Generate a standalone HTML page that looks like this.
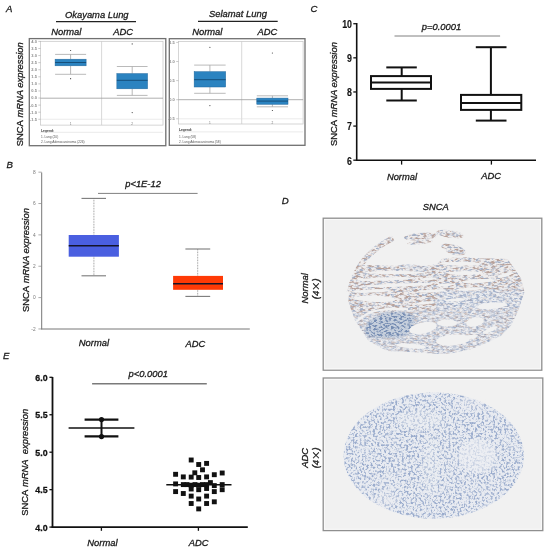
<!DOCTYPE html>
<html><head><meta charset="utf-8"><title>SNCA figure</title>
<style>html,body{margin:0;padding:0;background:#fff;width:547px;height:550px;overflow:hidden}svg{display:block}</style>
</head><body>
<svg width="547" height="550" viewBox="0 0 547 550" font-family='"Liberation Sans", sans-serif'>
<defs>
 <filter id="nb" x="0" y="0" width="100%" height="100%" color-interpolation-filters="sRGB">
  <feTurbulence type="fractalNoise" baseFrequency="0.45" numOctaves="2" seed="3" result="n"/>
  <feColorMatrix in="n" type="matrix" values="0 0 0 0 0.60  0 0 0 0 0.67  0 0 0 0 0.80  -4.5 0 0 0 2.4" result="c"/>
  <feTurbulence type="fractalNoise" baseFrequency="0.05" numOctaves="2" seed="5" result="n2"/>
  <feColorMatrix in="n2" type="matrix" values="0 0 0 0 1  0 0 0 0 1  0 0 0 0 1  0 -0.6 0 0 1.25" result="big"/>
  <feComposite in="c" in2="big" operator="in" result="c3"/>
  <feFlood flood-color="#e8ebf1" result="bg"/>
  <feComposite in="c3" in2="bg" operator="over" result="m"/>
  <feGaussianBlur in="m" stdDeviation="0.5" result="mb"/>
  <feComposite in="mb" in2="SourceGraphic" operator="in"/>
 </filter>
 <filter id="mblur" x="-5%" y="-5%" width="110%" height="110%"><feGaussianBlur stdDeviation="0.6"/></filter>
 <filter id="nt" x="0" y="0" width="100%" height="100%" color-interpolation-filters="sRGB">
  <feTurbulence type="fractalNoise" baseFrequency="0.22 0.5" numOctaves="2" seed="7" result="n"/>
  <feColorMatrix in="n" type="matrix" values="0 0 0 0 0.72  0 0 0 0 0.63  0 0 0 0 0.60  -4.5 0 0 0 2.3" result="c"/>
  <feTurbulence type="fractalNoise" baseFrequency="0.25 0.55" numOctaves="2" seed="19" result="n2"/>
  <feColorMatrix in="n2" type="matrix" values="0 0 0 0 0.64  0 0 0 0 0.69  0 0 0 0 0.78  -4.5 0 0 0 2.35" result="c2"/>
  <feFlood flood-color="#eeecec" result="bg"/>
  <feComposite in="c2" in2="bg" operator="over" result="m1"/>
  <feComposite in="c" in2="m1" operator="over" result="m"/>
  <feGaussianBlur in="m" stdDeviation="0.7" result="mb"/>
  <feComposite in="mb" in2="SourceGraphic" operator="in"/>
 </filter>
 <filter id="nblue" x="0" y="0" width="100%" height="100%" color-interpolation-filters="sRGB">
  <feTurbulence type="fractalNoise" baseFrequency="0.3 0.6" numOctaves="2" seed="29" result="n"/>
  <feColorMatrix in="n" type="matrix" values="0 0 0 0 0.60  0 0 0 0 0.67  0 0 0 0 0.79  -4.5 0 0 0 2.5" result="c"/>
  <feFlood flood-color="#eceef2" result="bg"/>
  <feComposite in="c" in2="bg" operator="over" result="m"/>
  <feGaussianBlur in="m" stdDeviation="0.7" result="mb"/>
  <feComposite in="mb" in2="SourceGraphic" operator="in"/>
 </filter>
 <filter id="nblob" x="0" y="0" width="100%" height="100%" color-interpolation-filters="sRGB">
  <feTurbulence type="fractalNoise" baseFrequency="0.35 0.55" numOctaves="2" seed="23" result="n"/>
  <feColorMatrix in="n" type="matrix" values="0 0 0 0 0.46  0 0 0 0 0.55  0 0 0 0 0.70  -4.5 0 0 0 2.5" result="c"/>
  <feFlood flood-color="#c6cfdc" result="bg"/>
  <feComposite in="c" in2="bg" operator="over" result="m"/>
  <feGaussianBlur in="m" stdDeviation="0.7" result="mb"/>
  <feComposite in="mb" in2="SourceGraphic" operator="in"/>
 </filter>
 <filter id="soft" x="-20%" y="-20%" width="140%" height="140%"><feGaussianBlur stdDeviation="1.5"/></filter>
 <filter id="soft1" x="-20%" y="-20%" width="140%" height="140%"><feGaussianBlur stdDeviation="0.9"/></filter>
<mask id="mt" maskUnits="userSpaceOnUse" x="323" y="218" width="220" height="152"><g filter="url(#mblur)">
<path d="M349,292 L351.7,279 L356,270 L362,265 L375,265 L395,266 L407,264 L426,266 L437,264 L442,259 L460,257 L482,258.5 L496,258.5 L507.6,259 L514.4,268.4 L521,278.5 L524.5,292 L517.7,312 L511,325.6 L501,335.7 L487.5,342.5 L470.6,349.2 L450.5,353.4 L437,354 L420,352.5 L400,351.5 L387,350.9 L368.5,340.8 L361.8,330.7 L355,320.6 L348.4,302 Z" fill="#fff"/>
<ellipse cx="421" cy="236.5" rx="17" ry="3.8" transform="rotate(-4 421 236.5)" fill="#fff"/>
<ellipse cx="450" cy="234" rx="14" ry="3.8" transform="rotate(8 450 234)" fill="#fff"/>
<ellipse cx="420" cy="242.5" rx="13" ry="1.8" transform="rotate(-6 420 242.5)" fill="#fff"/>
<ellipse cx="455" cy="250" rx="11" ry="5" transform="rotate(15 455 250)" fill="#fff"/>
<ellipse cx="446" cy="246" rx="5" ry="2.5" transform="rotate(0 446 246)" fill="#fff"/>
<path d="M393,238 Q372,249 362,263 Q353,276 349.5,292" fill="none" stroke="#fff" stroke-width="5.5"/>
<ellipse cx="395" cy="272.6" rx="30" ry="1.7" transform="rotate(0 395 272.6)" fill="#000"/>
<ellipse cx="385" cy="279" rx="30" ry="1.6" transform="rotate(-2 385 279)" fill="#000"/>
<ellipse cx="400" cy="285" rx="34" ry="1.7" transform="rotate(-2 400 285)" fill="#000"/>
<ellipse cx="372" cy="291" rx="20" ry="1.6" transform="rotate(-3 372 291)" fill="#000"/>
<ellipse cx="460" cy="263.7" rx="20" ry="2.0" transform="rotate(0 460 263.7)" fill="#000"/>
<ellipse cx="465" cy="273" rx="18" ry="1.9" transform="rotate(0 465 273)" fill="#000"/>
<ellipse cx="479" cy="281" rx="17" ry="1.9" transform="rotate(-3 479 281)" fill="#000"/>
<ellipse cx="505" cy="275" rx="8" ry="1.7" transform="rotate(-15 505 275)" fill="#000"/>
<ellipse cx="432" cy="291" rx="14" ry="1.6" transform="rotate(-3 432 291)" fill="#000"/>
<ellipse cx="470" cy="289" rx="14" ry="1.6" transform="rotate(-3 470 289)" fill="#000"/>
<ellipse cx="428" cy="279" rx="8" ry="1.4" transform="rotate(-4 428 279)" fill="#000"/>
<ellipse cx="445" cy="285" rx="9" ry="1.4" transform="rotate(-4 445 285)" fill="#000"/>
<ellipse cx="375" cy="298.7" rx="21" ry="3.2" transform="rotate(2 375 298.7)" fill="#000"/>
<ellipse cx="492" cy="305.7" rx="15" ry="3.3" transform="rotate(-5 492 305.7)" fill="#000"/>
<ellipse cx="455" cy="300" rx="10" ry="1.3" transform="rotate(-4 455 300)" fill="#000"/>
<ellipse cx="425" cy="303" rx="10" ry="1.4" transform="rotate(-5 425 303)" fill="#000"/>
<ellipse cx="423" cy="328" rx="14" ry="5.5" transform="rotate(-12 423 328)" fill="#000"/>
<ellipse cx="447" cy="323" rx="10" ry="3.6" transform="rotate(0 447 323)" fill="#000"/>
<ellipse cx="475" cy="322" rx="9" ry="4.5" transform="rotate(-12 475 322)" fill="#000"/>
<ellipse cx="453" cy="340" rx="17" ry="5.5" transform="rotate(-5 453 340)" fill="#000"/>
<ellipse cx="411" cy="346" rx="15" ry="2.3" transform="rotate(5 411 346)" fill="#000"/>
<ellipse cx="490" cy="330" rx="8" ry="2" transform="rotate(-25 490 330)" fill="#000"/>
<ellipse cx="470" cy="337" rx="8" ry="2" transform="rotate(-10 470 337)" fill="#000"/>
<path d="M356,322 Q366,312 380,310 Q395,308 408,309.5" fill="none" stroke="#000" stroke-width="2.2"/>
</g></mask><mask id="mblob" maskUnits="userSpaceOnUse" x="323" y="218" width="220" height="152"><g filter="url(#soft1)">
<path d="M365,330 C366,322 376,314 390,312 C400,311 409,312 413,316 C416,322 414,330 406,335 C396,339 380,339 370,337 C366,336 365,333 365,330 Z" fill="#fff"/>
</g></mask>
<mask id="mbluereg" maskUnits="userSpaceOnUse" x="323" y="218" width="220" height="152"><g filter="url(#soft)">
<path d="M350,312 C380,314 420,312 440,308 L525,310 L525,360 L340,360 Z" fill="#777"/>
<path d="M437,290 L525,290 L525,309 L437,309 Z" fill="#bbb"/>
<path d="M405,262 L428,262 L428,270 L405,270 Z" fill="#999"/>
</g></mask>
</defs>
<text x="6.0" y="11.7" font-size="9.6" font-style="italic" font-weight="normal" text-anchor="start" fill="#1a1a1a" stroke="#1a1a1a" stroke-width="0.3" >A</text>
<text x="65" y="17.5" font-size="9.4" font-style="italic" font-weight="normal" text-anchor="start" fill="#1a1a1a" stroke="#1a1a1a" stroke-width="0.3" >Okayama Lung</text>
<line x1="56" y1="21.6" x2="136" y2="21.6" stroke="#222" stroke-width="1.3" />
<text x="51.2" y="34.5" font-size="9.4" font-style="italic" font-weight="normal" text-anchor="start" fill="#1a1a1a" stroke="#1a1a1a" stroke-width="0.3" >Normal</text>
<text x="113.2" y="34.5" font-size="9.4" font-style="italic" font-weight="normal" text-anchor="start" fill="#1a1a1a" stroke="#1a1a1a" stroke-width="0.3" >ADC</text>
<text x="209" y="17.2" font-size="9.4" font-style="italic" font-weight="normal" text-anchor="start" fill="#1a1a1a" stroke="#1a1a1a" stroke-width="0.3" >Selamat Lung</text>
<line x1="198" y1="21.3" x2="277.7" y2="21.3" stroke="#222" stroke-width="1.3" />
<text x="192.2" y="34.8" font-size="9.4" font-style="italic" font-weight="normal" text-anchor="start" fill="#1a1a1a" stroke="#1a1a1a" stroke-width="0.3" >Normal</text>
<text x="257.5" y="34.8" font-size="9.4" font-style="italic" font-weight="normal" text-anchor="start" fill="#1a1a1a" stroke="#1a1a1a" stroke-width="0.3" >ADC</text>
<text x="0" y="0" font-size="9.4" font-style="italic" font-weight="normal" text-anchor="start" fill="#1a1a1a" stroke="#1a1a1a" stroke-width="0.3" transform="translate(22.6,146.2) rotate(-90)"><tspan font-style="normal">SNCA</tspan> mRNA expression</text>
<rect x="29.3" y="38.6" width="136.5" height="107.1" fill="none" stroke="#707070" stroke-width="1.3" />
<rect x="40.5" y="41.3" width="122.5" height="83.8" fill="none" stroke="#c4c4c4" stroke-width="0.7" />
<line x1="101.6" y1="41.3" x2="101.6" y2="125.1" stroke="#c8c8c8" stroke-width="0.7" />
<line x1="40.5" y1="119.28" x2="163" y2="119.28" stroke="#dedede" stroke-width="0.6" />
<line x1="40.5" y1="98.2" x2="163" y2="98.2" stroke="#9a9a9a" stroke-width="0.8" />
<line x1="38.3" y1="41.4" x2="40.5" y2="41.4" stroke="#999" stroke-width="0.5" />
<text x="36.9" y="42.8" font-size="4.0" font-style="normal" font-weight="bold" text-anchor="end" fill="#8a8a8a" >4.0</text>
<line x1="38.3" y1="48.48" x2="40.5" y2="48.48" stroke="#999" stroke-width="0.5" />
<text x="36.9" y="49.879999999999995" font-size="4.0" font-style="normal" font-weight="bold" text-anchor="end" fill="#8a8a8a" >3.5</text>
<line x1="38.3" y1="55.56" x2="40.5" y2="55.56" stroke="#999" stroke-width="0.5" />
<text x="36.9" y="56.96" font-size="4.0" font-style="normal" font-weight="bold" text-anchor="end" fill="#8a8a8a" >3.0</text>
<line x1="38.3" y1="62.64" x2="40.5" y2="62.64" stroke="#999" stroke-width="0.5" />
<text x="36.9" y="64.04" font-size="4.0" font-style="normal" font-weight="bold" text-anchor="end" fill="#8a8a8a" >2.5</text>
<line x1="38.3" y1="69.72" x2="40.5" y2="69.72" stroke="#999" stroke-width="0.5" />
<text x="36.9" y="71.12" font-size="4.0" font-style="normal" font-weight="bold" text-anchor="end" fill="#8a8a8a" >2.0</text>
<line x1="38.3" y1="76.8" x2="40.5" y2="76.8" stroke="#999" stroke-width="0.5" />
<text x="36.9" y="78.2" font-size="4.0" font-style="normal" font-weight="bold" text-anchor="end" fill="#8a8a8a" >1.5</text>
<line x1="38.3" y1="83.88" x2="40.5" y2="83.88" stroke="#999" stroke-width="0.5" />
<text x="36.9" y="85.28" font-size="4.0" font-style="normal" font-weight="bold" text-anchor="end" fill="#8a8a8a" >1.0</text>
<line x1="38.3" y1="90.96000000000001" x2="40.5" y2="90.96000000000001" stroke="#999" stroke-width="0.5" />
<text x="36.9" y="92.36000000000001" font-size="4.0" font-style="normal" font-weight="bold" text-anchor="end" fill="#8a8a8a" >0.5</text>
<line x1="38.3" y1="98.03999999999999" x2="40.5" y2="98.03999999999999" stroke="#999" stroke-width="0.5" />
<text x="36.9" y="99.44" font-size="4.0" font-style="normal" font-weight="bold" text-anchor="end" fill="#8a8a8a" >0.0</text>
<line x1="38.3" y1="105.12" x2="40.5" y2="105.12" stroke="#999" stroke-width="0.5" />
<text x="36.9" y="106.52000000000001" font-size="4.0" font-style="normal" font-weight="bold" text-anchor="end" fill="#8a8a8a" >-0.5</text>
<line x1="38.3" y1="112.19999999999999" x2="40.5" y2="112.19999999999999" stroke="#999" stroke-width="0.5" />
<text x="36.9" y="113.6" font-size="4.0" font-style="normal" font-weight="bold" text-anchor="end" fill="#8a8a8a" >-1.0</text>
<line x1="38.3" y1="119.28" x2="40.5" y2="119.28" stroke="#999" stroke-width="0.5" />
<text x="36.9" y="120.68" font-size="4.0" font-style="normal" font-weight="bold" text-anchor="end" fill="#8a8a8a" >-1.5</text>
<line x1="70.6" y1="54.4" x2="70.6" y2="59.2" stroke="#9a9a9a" stroke-width="0.7" />
<line x1="70.6" y1="65.8" x2="70.6" y2="74.3" stroke="#9a9a9a" stroke-width="0.7" />
<line x1="55.099999999999994" y1="54.4" x2="86.1" y2="54.4" stroke="#a8a8a8" stroke-width="0.8" />
<line x1="55.099999999999994" y1="74.3" x2="86.1" y2="74.3" stroke="#a8a8a8" stroke-width="0.8" />
<rect x="55.099999999999994" y="59.2" width="31" height="6.599999999999994" fill="#2b83c0" stroke="#1f669c" stroke-width="0.5" />
<line x1="55.099999999999994" y1="62.5" x2="86.1" y2="62.5" stroke="#134a73" stroke-width="0.9" />
<circle cx="70.6" cy="50.5" r="0.6" fill="#444"/>
<circle cx="70.6" cy="78.7" r="0.6" fill="#444"/>
<text x="70.6" y="124.69999999999999" font-size="3.2" font-style="normal" font-weight="normal" text-anchor="middle" fill="#777" >1</text>
<line x1="132.2" y1="66.5" x2="132.2" y2="73.6" stroke="#9a9a9a" stroke-width="0.7" />
<line x1="132.2" y1="88.8" x2="132.2" y2="95.4" stroke="#9a9a9a" stroke-width="0.7" />
<line x1="116.85" y1="66.5" x2="147.54999999999998" y2="66.5" stroke="#a8a8a8" stroke-width="0.8" />
<line x1="116.85" y1="95.4" x2="147.54999999999998" y2="95.4" stroke="#a8a8a8" stroke-width="0.8" />
<rect x="116.85" y="73.6" width="30.7" height="15.200000000000003" fill="#2b83c0" stroke="#1f669c" stroke-width="0.5" />
<line x1="116.85" y1="80.3" x2="147.54999999999998" y2="80.3" stroke="#134a73" stroke-width="0.9" />
<circle cx="132.2" cy="43.9" r="0.6" fill="#444"/>
<circle cx="132.2" cy="112.6" r="0.6" fill="#444"/>
<text x="132.2" y="124.69999999999999" font-size="3.2" font-style="normal" font-weight="normal" text-anchor="middle" fill="#777" >2</text>
<text x="41.0" y="131.5" font-size="3.4" font-style="normal" font-weight="bold" text-anchor="start" fill="#333" >Legend:</text>
<line x1="40.5" y1="132.29999999999998" x2="163" y2="132.29999999999998" stroke="#dcdcdc" stroke-width="0.6" />
<text x="41.0" y="138.0" font-size="3.2" font-style="normal" font-weight="normal" text-anchor="start" fill="#555" >1. Lung (20)</text>
<text x="41.0" y="143.39999999999998" font-size="3.2" font-style="normal" font-weight="normal" text-anchor="start" fill="#555" >2. Lung Adenocarcinoma (226)</text>
<rect x="169.3" y="38.7" width="135.7" height="106.60000000000001" fill="none" stroke="#707070" stroke-width="1.3" />
<rect x="178.4" y="41.6" width="124.70000000000002" height="82.4" fill="none" stroke="#c4c4c4" stroke-width="0.7" />
<line x1="241.7" y1="41.6" x2="241.7" y2="124.0" stroke="#c8c8c8" stroke-width="0.7" />
<line x1="178.4" y1="118.80000000000001" x2="303.1" y2="118.80000000000001" stroke="#dedede" stroke-width="0.6" />
<line x1="178.4" y1="99.7" x2="303.1" y2="99.7" stroke="#9a9a9a" stroke-width="0.8" />
<line x1="176.20000000000002" y1="42.4" x2="178.4" y2="42.4" stroke="#999" stroke-width="0.5" />
<text x="174.8" y="43.8" font-size="4.0" font-style="normal" font-weight="bold" text-anchor="end" fill="#8a8a8a" >1.5</text>
<line x1="176.20000000000002" y1="61.5" x2="178.4" y2="61.5" stroke="#999" stroke-width="0.5" />
<text x="174.8" y="62.9" font-size="4.0" font-style="normal" font-weight="bold" text-anchor="end" fill="#8a8a8a" >1.0</text>
<line x1="176.20000000000002" y1="80.6" x2="178.4" y2="80.6" stroke="#999" stroke-width="0.5" />
<text x="174.8" y="82.0" font-size="4.0" font-style="normal" font-weight="bold" text-anchor="end" fill="#8a8a8a" >0.5</text>
<line x1="176.20000000000002" y1="99.7" x2="178.4" y2="99.7" stroke="#999" stroke-width="0.5" />
<text x="174.8" y="101.10000000000001" font-size="4.0" font-style="normal" font-weight="bold" text-anchor="end" fill="#8a8a8a" >0.0</text>
<line x1="176.20000000000002" y1="118.80000000000001" x2="178.4" y2="118.80000000000001" stroke="#999" stroke-width="0.5" />
<text x="174.8" y="120.20000000000002" font-size="4.0" font-style="normal" font-weight="bold" text-anchor="end" fill="#8a8a8a" >-0.5</text>
<line x1="209.9" y1="65.1" x2="209.9" y2="71.7" stroke="#9a9a9a" stroke-width="0.7" />
<line x1="209.9" y1="87.0" x2="209.9" y2="93.3" stroke="#9a9a9a" stroke-width="0.7" />
<line x1="194.15" y1="65.1" x2="225.65" y2="65.1" stroke="#a8a8a8" stroke-width="0.8" />
<line x1="194.15" y1="93.3" x2="225.65" y2="93.3" stroke="#a8a8a8" stroke-width="0.8" />
<rect x="194.15" y="71.7" width="31.5" height="15.299999999999997" fill="#2b83c0" stroke="#1f669c" stroke-width="0.5" />
<line x1="194.15" y1="79.7" x2="225.65" y2="79.7" stroke="#134a73" stroke-width="0.9" />
<circle cx="209.9" cy="47.3" r="0.6" fill="#444"/>
<circle cx="209.9" cy="105.6" r="0.6" fill="#444"/>
<text x="209.9" y="123.6" font-size="3.2" font-style="normal" font-weight="normal" text-anchor="middle" fill="#777" >1</text>
<line x1="272.4" y1="95.8" x2="272.4" y2="98.1" stroke="#9a9a9a" stroke-width="0.7" />
<line x1="272.4" y1="104.3" x2="272.4" y2="106.8" stroke="#9a9a9a" stroke-width="0.7" />
<line x1="256.79999999999995" y1="95.8" x2="288.0" y2="95.8" stroke="#a8a8a8" stroke-width="0.8" />
<line x1="256.79999999999995" y1="106.8" x2="288.0" y2="106.8" stroke="#a8a8a8" stroke-width="0.8" />
<rect x="256.79999999999995" y="98.1" width="31.2" height="6.200000000000003" fill="#2b83c0" stroke="#1f669c" stroke-width="0.5" />
<line x1="256.79999999999995" y1="101.1" x2="288.0" y2="101.1" stroke="#134a73" stroke-width="0.9" />
<circle cx="272.4" cy="53.0" r="0.6" fill="#444"/>
<circle cx="272.4" cy="110.5" r="0.6" fill="#444"/>
<text x="272.4" y="123.6" font-size="3.2" font-style="normal" font-weight="normal" text-anchor="middle" fill="#777" >2</text>
<text x="178.9" y="131.10000000000002" font-size="3.4" font-style="normal" font-weight="bold" text-anchor="start" fill="#333" >Legend:</text>
<line x1="178.4" y1="131.9" x2="303.1" y2="131.9" stroke="#dcdcdc" stroke-width="0.6" />
<text x="178.9" y="137.60000000000002" font-size="3.2" font-style="normal" font-weight="normal" text-anchor="start" fill="#555" >1. Lung (58)</text>
<text x="178.9" y="143.0" font-size="3.2" font-style="normal" font-weight="normal" text-anchor="start" fill="#555" >2. Lung Adenocarcinoma (58)</text>
<text x="310.6" y="11.7" font-size="9.6" font-style="italic" font-weight="normal" text-anchor="start" fill="#1a1a1a" stroke="#1a1a1a" stroke-width="0.3" >C</text>
<line x1="356.7" y1="23.0" x2="356.7" y2="161.0" stroke="#111" stroke-width="1.6" />
<line x1="355.9" y1="160.2" x2="536" y2="160.2" stroke="#111" stroke-width="1.6" />
<line x1="353.3" y1="160.2" x2="356.7" y2="160.2" stroke="#111" stroke-width="1.3" />
<text x="352" y="164.6" font-size="10.4" font-style="normal" font-weight="bold" text-anchor="end" fill="#111" stroke="#111" stroke-width="0.12" transform="translate(52.80000000000001,0) scale(0.85,1)">6</text>
<line x1="353.3" y1="126.07999999999998" x2="356.7" y2="126.07999999999998" stroke="#111" stroke-width="1.3" />
<text x="352" y="130.48" font-size="10.4" font-style="normal" font-weight="bold" text-anchor="end" fill="#111" stroke="#111" stroke-width="0.12" transform="translate(52.80000000000001,0) scale(0.85,1)">7</text>
<line x1="353.3" y1="91.96" x2="356.7" y2="91.96" stroke="#111" stroke-width="1.3" />
<text x="352" y="96.36" font-size="10.4" font-style="normal" font-weight="bold" text-anchor="end" fill="#111" stroke="#111" stroke-width="0.12" transform="translate(52.80000000000001,0) scale(0.85,1)">8</text>
<line x1="353.3" y1="57.84" x2="356.7" y2="57.84" stroke="#111" stroke-width="1.3" />
<text x="352" y="62.24" font-size="10.4" font-style="normal" font-weight="bold" text-anchor="end" fill="#111" stroke="#111" stroke-width="0.12" transform="translate(52.80000000000001,0) scale(0.85,1)">9</text>
<line x1="353.3" y1="23.72" x2="356.7" y2="23.72" stroke="#111" stroke-width="1.3" />
<text x="352" y="28.119999999999997" font-size="10.4" font-style="normal" font-weight="bold" text-anchor="end" fill="#111" stroke="#111" stroke-width="0.12" transform="translate(52.80000000000001,0) scale(0.85,1)">10</text>
<line x1="401.6" y1="160.2" x2="401.6" y2="164.6" stroke="#111" stroke-width="1.3" />
<line x1="491.4" y1="160.2" x2="491.4" y2="164.6" stroke="#111" stroke-width="1.3" />
<text x="386.9" y="179.5" font-size="9.4" font-style="italic" font-weight="normal" text-anchor="start" fill="#1a1a1a" stroke="#1a1a1a" stroke-width="0.3" >Normal</text>
<text x="481.3" y="179.4" font-size="9.4" font-style="italic" font-weight="normal" text-anchor="start" fill="#1a1a1a" stroke="#1a1a1a" stroke-width="0.3" >ADC</text>
<text x="421.8" y="29.6" font-size="9.4" font-style="italic" font-weight="normal" text-anchor="start" fill="#1a1a1a" stroke="#1a1a1a" stroke-width="0.3" >p=0.0001</text>
<line x1="394.5" y1="36.0" x2="500.1" y2="36.0" stroke="#808080" stroke-width="1.0" />
<text x="0" y="0" font-size="9.4" font-style="italic" font-weight="normal" text-anchor="start" fill="#1a1a1a" stroke="#1a1a1a" stroke-width="0.3" transform="translate(337.3,146.0) rotate(-90)"><tspan font-style="normal">SNCA</tspan> mRNA expression</text>
<line x1="401.7" y1="67.4" x2="401.7" y2="76.1" stroke="#111" stroke-width="2" />
<line x1="401.7" y1="88.9" x2="401.7" y2="100.5" stroke="#111" stroke-width="2" />
<line x1="386.3" y1="67.4" x2="416.8" y2="67.4" stroke="#111" stroke-width="2" />
<line x1="386.3" y1="100.5" x2="416.8" y2="100.5" stroke="#111" stroke-width="2" />
<rect x="371.0" y="76.1" width="60.0" height="12.800000000000011" fill="none" stroke="#111" stroke-width="2" />
<line x1="371.0" y1="82.5" x2="431.0" y2="82.5" stroke="#111" stroke-width="2" />
<line x1="490.9" y1="47.2" x2="490.9" y2="94.9" stroke="#111" stroke-width="2" />
<line x1="490.9" y1="109.9" x2="490.9" y2="120.6" stroke="#111" stroke-width="2" />
<line x1="475.8" y1="47.2" x2="506.5" y2="47.2" stroke="#111" stroke-width="2" />
<line x1="475.8" y1="120.6" x2="506.5" y2="120.6" stroke="#111" stroke-width="2" />
<rect x="461.0" y="94.9" width="60.299999999999955" height="15.0" fill="none" stroke="#111" stroke-width="2" />
<line x1="461.0" y1="103.0" x2="521.3" y2="103.0" stroke="#111" stroke-width="2" />
<text x="6.4" y="167.5" font-size="9.6" font-style="italic" font-weight="normal" text-anchor="start" fill="#1a1a1a" stroke="#1a1a1a" stroke-width="0.3" >B</text>
<line x1="41.7" y1="172.5" x2="41.7" y2="329.3" stroke="#777" stroke-width="1.0" />
<line x1="41.2" y1="329.0" x2="249.8" y2="329.0" stroke="#777" stroke-width="1.0" />
<line x1="38.4" y1="172.16000000000003" x2="41.7" y2="172.16000000000003" stroke="#888" stroke-width="0.7" />
<text x="35.6" y="173.86" font-size="4.8" font-style="normal" font-weight="normal" text-anchor="end" fill="#777" >8</text>
<line x1="38.4" y1="203.52000000000004" x2="41.7" y2="203.52000000000004" stroke="#888" stroke-width="0.7" />
<text x="35.6" y="205.22000000000003" font-size="4.8" font-style="normal" font-weight="normal" text-anchor="end" fill="#777" >6</text>
<line x1="38.4" y1="234.88000000000002" x2="41.7" y2="234.88000000000002" stroke="#888" stroke-width="0.7" />
<text x="35.6" y="236.58" font-size="4.8" font-style="normal" font-weight="normal" text-anchor="end" fill="#777" >4</text>
<line x1="38.4" y1="266.24" x2="41.7" y2="266.24" stroke="#888" stroke-width="0.7" />
<text x="35.6" y="267.94" font-size="4.8" font-style="normal" font-weight="normal" text-anchor="end" fill="#777" >2</text>
<line x1="38.4" y1="297.6" x2="41.7" y2="297.6" stroke="#888" stroke-width="0.7" />
<text x="35.6" y="299.3" font-size="4.8" font-style="normal" font-weight="normal" text-anchor="end" fill="#777" >0</text>
<line x1="38.4" y1="328.96000000000004" x2="41.7" y2="328.96000000000004" stroke="#888" stroke-width="0.7" />
<text x="35.6" y="330.66" font-size="4.8" font-style="normal" font-weight="normal" text-anchor="end" fill="#777" >-2</text>
<text x="125.2" y="186.5" font-size="9.4" font-style="italic" font-weight="normal" text-anchor="start" fill="#1a1a1a" stroke="#1a1a1a" stroke-width="0.3" >p&lt;1E-12</text>
<line x1="98" y1="193.4" x2="197.6" y2="193.4" stroke="#808080" stroke-width="1.0" />
<line x1="93.9" y1="198.4" x2="93.9" y2="235.0" stroke="#777" stroke-width="0.8" stroke-dasharray="0.8 0.8"/>
<line x1="93.9" y1="256.7" x2="93.9" y2="275.8" stroke="#777" stroke-width="0.8" stroke-dasharray="0.8 0.8"/>
<line x1="81.5" y1="198.4" x2="106.0" y2="198.4" stroke="#7a7a7a" stroke-width="1.1" />
<line x1="81.5" y1="275.8" x2="106.0" y2="275.8" stroke="#7a7a7a" stroke-width="1.1" />
<rect x="68.7" y="235.0" width="50.2" height="21.69999999999999" fill="#4a5fe0" stroke="none" stroke-width="1" />
<line x1="68.7" y1="245.7" x2="118.9" y2="245.7" stroke="#141428" stroke-width="1.6" />
<line x1="197.7" y1="249.0" x2="197.7" y2="275.9" stroke="#777" stroke-width="0.8" stroke-dasharray="0.8 0.8"/>
<line x1="197.7" y1="289.8" x2="197.7" y2="296.4" stroke="#777" stroke-width="0.8" stroke-dasharray="0.8 0.8"/>
<line x1="185.4" y1="249.0" x2="210.2" y2="249.0" stroke="#7a7a7a" stroke-width="1.1" />
<line x1="185.4" y1="296.4" x2="210.2" y2="296.4" stroke="#7a7a7a" stroke-width="1.1" />
<rect x="173.1" y="275.9" width="49.900000000000006" height="13.900000000000034" fill="#ff3a06" stroke="none" stroke-width="1" />
<line x1="173.1" y1="283.7" x2="223.0" y2="283.7" stroke="#141428" stroke-width="1.6" />
<text x="78.8" y="345.9" font-size="9.4" font-style="italic" font-weight="normal" text-anchor="start" fill="#1a1a1a" stroke="#1a1a1a" stroke-width="0.3" >Normal</text>
<text x="185.4" y="346.5" font-size="9.4" font-style="italic" font-weight="normal" text-anchor="start" fill="#1a1a1a" stroke="#1a1a1a" stroke-width="0.3" >ADC</text>
<text x="0" y="0" font-size="9.4" font-style="italic" font-weight="normal" text-anchor="start" fill="#1a1a1a" stroke="#1a1a1a" stroke-width="0.3" transform="translate(28.6,312.0) rotate(-90)"><tspan font-style="normal">SNCA</tspan> mRNA expression</text>
<text x="3.0" y="358.6" font-size="9.6" font-style="italic" font-weight="normal" text-anchor="start" fill="#1a1a1a" stroke="#1a1a1a" stroke-width="0.3" >E</text>
<line x1="52.5" y1="377.0" x2="52.5" y2="528.0" stroke="#111" stroke-width="1.8" />
<line x1="51.6" y1="527.1" x2="247.8" y2="527.1" stroke="#111" stroke-width="1.8" />
<line x1="49.4" y1="527.1" x2="52.5" y2="527.1" stroke="#111" stroke-width="1.3" />
<text x="47.6" y="530.6" font-size="9.8" font-style="normal" font-weight="bold" text-anchor="end" fill="#111" stroke="#111" stroke-width="0.3" transform="translate(4.759999999999999,0) scale(0.9,1)">4.0</text>
<line x1="49.4" y1="489.65000000000003" x2="52.5" y2="489.65000000000003" stroke="#111" stroke-width="1.3" />
<text x="47.6" y="493.15000000000003" font-size="9.8" font-style="normal" font-weight="bold" text-anchor="end" fill="#111" stroke="#111" stroke-width="0.3" transform="translate(4.759999999999999,0) scale(0.9,1)">4.5</text>
<line x1="49.4" y1="452.20000000000005" x2="52.5" y2="452.20000000000005" stroke="#111" stroke-width="1.3" />
<text x="47.6" y="455.70000000000005" font-size="9.8" font-style="normal" font-weight="bold" text-anchor="end" fill="#111" stroke="#111" stroke-width="0.3" transform="translate(4.759999999999999,0) scale(0.9,1)">5.0</text>
<line x1="49.4" y1="414.75" x2="52.5" y2="414.75" stroke="#111" stroke-width="1.3" />
<text x="47.6" y="418.25" font-size="9.8" font-style="normal" font-weight="bold" text-anchor="end" fill="#111" stroke="#111" stroke-width="0.3" transform="translate(4.759999999999999,0) scale(0.9,1)">5.5</text>
<line x1="49.4" y1="377.3" x2="52.5" y2="377.3" stroke="#111" stroke-width="1.3" />
<text x="47.6" y="380.8" font-size="9.8" font-style="normal" font-weight="bold" text-anchor="end" fill="#111" stroke="#111" stroke-width="0.3" transform="translate(4.759999999999999,0) scale(0.9,1)">6.0</text>
<line x1="101.4" y1="527.1" x2="101.4" y2="530.8" stroke="#111" stroke-width="1.3" />
<line x1="198.4" y1="527.1" x2="198.4" y2="530.8" stroke="#111" stroke-width="1.3" />
<text x="87.3" y="545.7" font-size="9.4" font-style="italic" font-weight="normal" text-anchor="start" fill="#1a1a1a" stroke="#1a1a1a" stroke-width="0.3" >Normal</text>
<text x="188.7" y="546.4" font-size="9.4" font-style="italic" font-weight="normal" text-anchor="start" fill="#1a1a1a" stroke="#1a1a1a" stroke-width="0.3" >ADC</text>
<text x="128.5" y="377.1" font-size="9.4" font-style="italic" font-weight="normal" text-anchor="start" fill="#1a1a1a" stroke="#1a1a1a" stroke-width="0.3" >p&lt;0.0001</text>
<line x1="92.1" y1="383.7" x2="206.8" y2="383.7" stroke="#7a7a7a" stroke-width="1.4" />
<text x="0" y="0" font-size="9.4" font-style="italic" font-weight="normal" text-anchor="start" fill="#1a1a1a" stroke="#1a1a1a" stroke-width="0.3" transform="translate(28.4,515.7) rotate(-90)" xml:space="preserve"><tspan font-style="normal">SNCA</tspan> mRNA&#160; expression</text>
<line x1="68.6" y1="428.1" x2="134.4" y2="428.1" stroke="#111" stroke-width="1.5" />
<line x1="84.6" y1="419.6" x2="118.4" y2="419.6" stroke="#111" stroke-width="2.2" />
<line x1="84.6" y1="436.4" x2="118.4" y2="436.4" stroke="#111" stroke-width="2.2" />
<line x1="101.5" y1="419.6" x2="101.5" y2="436.4" stroke="#111" stroke-width="2.0" />
<circle cx="101.5" cy="419.6" r="2.6" fill="#111"/>
<circle cx="101.5" cy="436.6" r="2.6" fill="#111"/>
<rect x="188.75" y="457.55" width="4.9" height="4.9" fill="#111" stroke="none" stroke-width="1" />
<rect x="196.25" y="462.05" width="4.9" height="4.9" fill="#111" stroke="none" stroke-width="1" />
<rect x="204.15" y="460.95" width="4.9" height="4.9" fill="#111" stroke="none" stroke-width="1" />
<rect x="200.05" y="467.35" width="4.9" height="4.9" fill="#111" stroke="none" stroke-width="1" />
<rect x="192.35" y="470.35" width="4.9" height="4.9" fill="#111" stroke="none" stroke-width="1" />
<rect x="173.15" y="471.85" width="4.9" height="4.9" fill="#111" stroke="none" stroke-width="1" />
<rect x="180.85" y="474.45" width="4.9" height="4.9" fill="#111" stroke="none" stroke-width="1" />
<rect x="188.75" y="474.65" width="4.9" height="4.9" fill="#111" stroke="none" stroke-width="1" />
<rect x="196.25" y="475.05" width="4.9" height="4.9" fill="#111" stroke="none" stroke-width="1" />
<rect x="204.15" y="474.45" width="4.9" height="4.9" fill="#111" stroke="none" stroke-width="1" />
<rect x="211.85" y="472.25" width="4.9" height="4.9" fill="#111" stroke="none" stroke-width="1" />
<rect x="219.75" y="470.55" width="4.9" height="4.9" fill="#111" stroke="none" stroke-width="1" />
<rect x="173.15" y="481.45" width="4.9" height="4.9" fill="#111" stroke="none" stroke-width="1" />
<rect x="180.85" y="482.15" width="4.9" height="4.9" fill="#111" stroke="none" stroke-width="1" />
<rect x="184.55" y="482.15" width="4.9" height="4.9" fill="#111" stroke="none" stroke-width="1" />
<rect x="188.75" y="482.75" width="4.9" height="4.9" fill="#111" stroke="none" stroke-width="1" />
<rect x="192.55" y="482.15" width="4.9" height="4.9" fill="#111" stroke="none" stroke-width="1" />
<rect x="196.25" y="482.75" width="4.9" height="4.9" fill="#111" stroke="none" stroke-width="1" />
<rect x="200.05" y="482.15" width="4.9" height="4.9" fill="#111" stroke="none" stroke-width="1" />
<rect x="204.15" y="482.15" width="4.9" height="4.9" fill="#111" stroke="none" stroke-width="1" />
<rect x="207.95" y="480.15" width="4.9" height="4.9" fill="#111" stroke="none" stroke-width="1" />
<rect x="211.85" y="483.15" width="4.9" height="4.9" fill="#111" stroke="none" stroke-width="1" />
<rect x="219.75" y="482.15" width="4.9" height="4.9" fill="#111" stroke="none" stroke-width="1" />
<rect x="219.75" y="487.25" width="4.9" height="4.9" fill="#111" stroke="none" stroke-width="1" />
<rect x="173.15" y="489.15" width="4.9" height="4.9" fill="#111" stroke="none" stroke-width="1" />
<rect x="180.85" y="491.05" width="4.9" height="4.9" fill="#111" stroke="none" stroke-width="1" />
<rect x="188.75" y="486.55" width="4.9" height="4.9" fill="#111" stroke="none" stroke-width="1" />
<rect x="196.25" y="487.25" width="4.9" height="4.9" fill="#111" stroke="none" stroke-width="1" />
<rect x="204.15" y="486.05" width="4.9" height="4.9" fill="#111" stroke="none" stroke-width="1" />
<rect x="211.85" y="489.15" width="4.9" height="4.9" fill="#111" stroke="none" stroke-width="1" />
<rect x="188.75" y="493.65" width="4.9" height="4.9" fill="#111" stroke="none" stroke-width="1" />
<rect x="196.25" y="496.55" width="4.9" height="4.9" fill="#111" stroke="none" stroke-width="1" />
<rect x="204.15" y="493.65" width="4.9" height="4.9" fill="#111" stroke="none" stroke-width="1" />
<rect x="188.75" y="501.05" width="4.9" height="4.9" fill="#111" stroke="none" stroke-width="1" />
<rect x="204.15" y="501.05" width="4.9" height="4.9" fill="#111" stroke="none" stroke-width="1" />
<rect x="211.85" y="499.35" width="4.9" height="4.9" fill="#111" stroke="none" stroke-width="1" />
<rect x="196.25" y="506.45" width="4.9" height="4.9" fill="#111" stroke="none" stroke-width="1" />
<line x1="166.3" y1="484.8" x2="231.5" y2="484.8" stroke="#111" stroke-width="1.4" />
<text x="281.8" y="203.7" font-size="9.6" font-style="italic" font-weight="normal" text-anchor="start" fill="#1a1a1a" stroke="#1a1a1a" stroke-width="0.3" >D</text>
<text x="422.8" y="210.4" font-size="9.4" font-style="italic" font-weight="normal" text-anchor="start" fill="#1a1a1a" stroke="#1a1a1a" stroke-width="0.3" >SNCA</text>
<rect x="323.2" y="218.2" width="218.6" height="152.0" fill="#f1f1f1" stroke="#8f8f8f" stroke-width="1.3" />
<rect x="324.6" y="219.6" width="215.8" height="149.2" fill="none" stroke="#fbfbfb" stroke-width="0.9" />
<rect x="323.2" y="378.0" width="219.6" height="152.6" fill="#f1f1f1" stroke="#8f8f8f" stroke-width="1.3" />
<rect x="324.6" y="379.4" width="216.8" height="149.8" fill="none" stroke="#fbfbfb" stroke-width="0.9" />
<text x="0" y="0" font-size="9.4" font-style="italic" font-weight="normal" text-anchor="middle" fill="#1a1a1a" stroke="#1a1a1a" stroke-width="0.3" transform="translate(307.9,288.3) rotate(-90)">Normal</text>
<text x="0" y="0" font-size="9.4" font-style="italic" font-weight="normal" text-anchor="middle" fill="#1a1a1a" stroke="#1a1a1a" stroke-width="0.3" transform="translate(319.3,288.8) rotate(-90)">(4<tspan font-family="Noto Sans CJK SC, sans-serif" font-style="normal">×</tspan>)</text>
<text x="0" y="0" font-size="9.4" font-style="italic" font-weight="normal" text-anchor="middle" fill="#1a1a1a" stroke="#1a1a1a" stroke-width="0.3" transform="translate(307.9,457.9) rotate(-90)">ADC</text>
<text x="0" y="0" font-size="9.4" font-style="italic" font-weight="normal" text-anchor="middle" fill="#1a1a1a" stroke="#1a1a1a" stroke-width="0.3" transform="translate(319.3,457.9) rotate(-90)">(4<tspan font-family="Noto Sans CJK SC, sans-serif" font-style="normal">×</tspan>)</text>
<ellipse cx="433.8" cy="455.6" rx="90.2" ry="63.1" fill="#000" filter="url(#nb)"/>
<g filter="url(#soft)" fill="#eef0f3"><ellipse cx="477" cy="456" rx="19" ry="17" opacity="0.6"/><ellipse cx="421" cy="420" rx="22" ry="10" opacity="0.4"/><ellipse cx="431" cy="466" rx="8" ry="30" opacity="0.35"/><ellipse cx="470" cy="404" rx="14" ry="6" opacity="0.3"/><ellipse cx="385" cy="500" rx="14" ry="8" opacity="0.3"/></g>
<g mask="url(#mt)"><rect x="323" y="218" width="220" height="152" fill="#000" filter="url(#nt)"/>
<g mask="url(#mbluereg)"><rect x="323" y="218" width="220" height="152" fill="#000" filter="url(#nblue)"/></g>
<g mask="url(#mblob)"><rect x="323" y="218" width="220" height="152" fill="#000" filter="url(#nblob)"/></g></g>
</svg>
</body></html>
